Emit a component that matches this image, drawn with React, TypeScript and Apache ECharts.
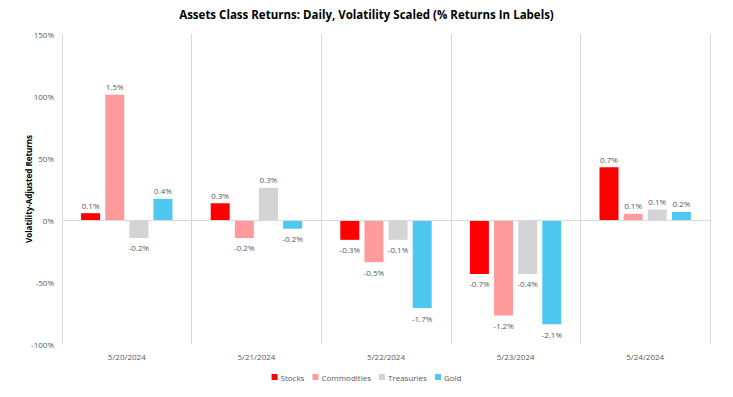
import React, { useEffect, useRef } from "react";
import * as echarts from "echarts";

const categories = ["5/20/2024", "5/21/2024", "5/22/2024", "5/23/2024", "5/24/2024"];
const seriesNames = ["Stocks", "Commodities", "Treasuries", "Gold"];
const stocks = [5.5, 13.5, -16, -43.5, 42.5];
const commodities = [101, -14.5, -34, -77, 5];
const treasuries = [-14.5, 26, -16, -43.5, 8.5];
const gold = [17, -7, -71, -84, 6.5];
const stocksRet = ["0.1%", "0.3%", "-0.3%", "-0.7%", "0.7%"];
const commoditiesRet = ["1.5%", "-0.2%", "-0.5%", "-1.2%", "0.1%"];
const treasuriesRet = ["-0.2%", "0.3%", "-0.1%", "-0.4%", "0.1%"];
const goldRet = ["0.4%", "-0.2%", "-1.7%", "-2.1%", "0.2%"];
const colors = ["#FF0000", "#FF9B9B", "#D4D4D4", "#4DC8F0"];
const yTicks = { min: -100, max: 150, interval: 50 };

const FONT = "'Open Sans', 'Noto Sans', sans-serif";

export default function App() {
  const ref = useRef<HTMLDivElement>(null);
  useEffect(() => {
    if (!ref.current) return;
    const chart = echarts.init(ref.current, undefined, { renderer: "svg" });
    const values = [stocks, commodities, treasuries, gold];
    const rets = [stocksRet, commoditiesRet, treasuriesRet, goldRet];
    const series: any[] = seriesNames.map((name, si) => ({
      name,
      type: "bar",
      barWidth: 19,
      barGap: "27%",
      itemStyle: { color: colors[si] },
      data: values[si].map((v, i) => ({
        value: v,
        label: {
          show: true,
          position: v >= 0 ? "top" : "bottom",
          distance: v >= 0 ? 4 : 6,
          formatter: rets[si][i],
          color: "#595959",
          fontSize: 8,
          fontFamily: FONT,
        },
      })),
      ...(si === 0
        ? {
            markLine: {
              silent: true,
              symbol: "none",
              label: { show: false },
              lineStyle: { color: "#D9D9D9", type: "solid", width: 1 },
              data: [{ yAxis: 0 }],
            },
          }
        : {}),
    }));
    chart.setOption({
      animation: false,
      textStyle: { fontFamily: FONT },
      title: {
        text: "Assets Class Returns: Daily, Volatility Scaled (% Returns In Labels)",
        left: "center",
        top: 3,
        textStyle: { fontSize: 11.5, fontWeight: "bold", color: "#000", fontFamily: FONT },
      },
      legend: {
        data: seriesNames,
        bottom: 11,
        left: "center",
        icon: "rect",
        itemWidth: 6,
        itemHeight: 6,
        itemGap: 8,
        textStyle: { fontSize: 8, color: "#595959", fontFamily: FONT, padding: [0, 0, 0, -2] },
      },
      grid: { left: 62, right: 23, top: 34, bottom: 53, containLabel: false },
      xAxis: {
        type: "category",
        data: categories,
        axisLine: { show: false, onZero: false },
        axisTick: { show: false },
        axisLabel: { color: "#595959", fontSize: 8, margin: 8, fontFamily: FONT },
        splitLine: { show: true, interval: 0, lineStyle: { color: "#D9D9D9", width: 1 } },
      },
      yAxis: {
        type: "value",
        min: yTicks.min,
        max: yTicks.max,
        interval: yTicks.interval,
        name: "Volatility-Adjusted Returns",
        nameLocation: "middle",
        nameGap: 30,
        nameMoveOverlap: false,
        nameTextStyle: { fontSize: 8, fontWeight: "bold", color: "#000", fontFamily: FONT },
        axisLine: { show: true, lineStyle: { color: "#D9D9D9" } },
        axisTick: { show: false },
        splitLine: { show: false },
        axisLabel: { formatter: "{value}%", color: "#595959", fontSize: 8, margin: 8, fontFamily: FONT },
      },
      series,
    });
    return () => chart.dispose();
  }, []);
  return <div ref={ref} style={{ width: 733, height: 397, position: "absolute", left: 0, top: 0, background: "#fff" }} />;
}
